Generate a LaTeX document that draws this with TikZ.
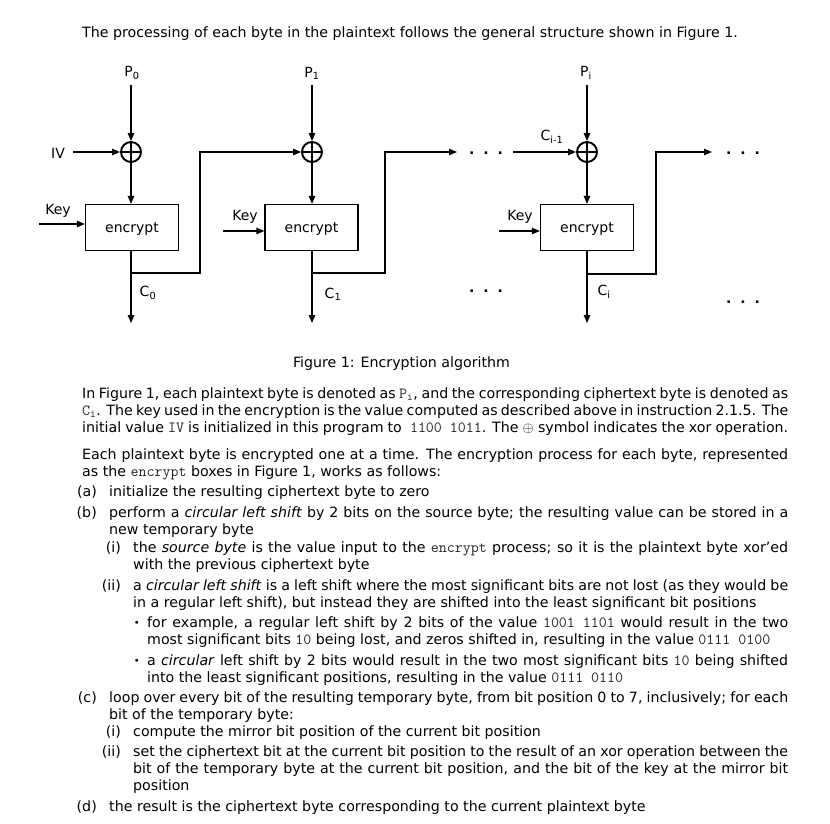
\documentclass[tikz,border=0pt]{standalone}
\usepackage{fontspec}
\setmainfont{DejaVu Sans}
\usetikzlibrary{arrows.meta}
\newcommand\mono[1]{{\ttfamily\fontsize{15.5}{17}\selectfont\color{black!85}#1}}
\newcommand\jl[4]{\node[txt] (#1) at (#2,#3) {\makebox[\dimexpr788pt-#2pt\relax][s]{#4}};}
\newcommand\nl[4]{\node[txt] (#1) at (#2,#3) {#4};}
\newcommand\bul{{\fontsize{10}{10}\selectfont\raisebox{1pt}{\textbullet}}}
\begin{document}
\begin{tikzpicture}[x=1pt,y=-1pt,
 txt/.style={anchor=base west,inner sep=0pt,font=\fontsize{14.2}{17}\selectfont},
 lab/.style={anchor=base east,inner sep=0pt,font=\fontsize{14.2}{17}\selectfont},
 dlab/.style={inner sep=0pt,font=\fontsize{14}{16}\selectfont},
 wire/.style={line width=1.3pt},
 arr/.style={wire,-{Triangle[length=8pt,width=6.5pt]}},
 xorc/.style={circle,draw,line width=1.9pt,minimum size=20pt,inner sep=0pt,
   path picture={\draw[line width=1.9pt] (path picture bounding box.north) -- (path picture bounding box.south)
     (path picture bounding box.west) -- (path picture bounding box.east);}},
 encbox/.style={draw,line width=1.3pt,minimum width=93pt,minimum height=46pt,inner sep=0pt,
   text depth=0pt,font=\fontsize{14}{16}\selectfont},
 dotsrow/.style={anchor=base,inner sep=0pt,font=\fontsize{14}{16}\selectfont\bfseries}]
\useasboundingbox (0,0) rectangle (830,824);

% ---------- title ----------
\nl{title}{82}{38}{The processing of each byte in the plaintext follows the general structure shown in Figure 1.}

% ---------- diagram ----------
\node[xorc] (xor0) at (131,152) {};
\node[xorc] (xor1) at (312,152) {};
\node[xorc] (xor2) at (587,152) {};
\node[encbox] (box0) at (132,227.5) {encrypt};
\node[encbox] (box1) at (311.5,227.5) {encrypt};
\node[encbox] (box2) at (587,227.5) {encrypt};

\node[dlab] (P0) at (132,73) {P\textsubscript{0}};
\node[dlab] (P1) at (312,73) {P\textsubscript{1}};
\node[dlab] (Pi) at (586,73) {P\textsubscript{i}};
\node[dlab] (IV) at (58,153) {IV};
\node[dlab] (Cim) at (552,137) {C\textsubscript{i-1}};
\node[dlab] (K0) at (58,211) {Key};
\node[dlab] (K1) at (245,217) {Key};
\node[dlab] (K2) at (520,217) {Key};
\node[dlab] (C0) at (148,293) {C\textsubscript{0}};
\node[dlab] (C1) at (333,294) {C\textsubscript{1}};
\node[dlab] (Ci) at (604,292) {C\textsubscript{i}};

\coordinate (p0s) at (131,85);
\coordinate (p1s) at (312,85);
\coordinate (pis) at (587,85);
\coordinate (ivs) at (73,152);
\coordinate (cis) at (513,152);
\coordinate (k0s) at (39,224);
\coordinate (k1s) at (223,231);
\coordinate (k2s) at (499,231);
\coordinate (o0) at (131,323);
\coordinate (o1) at (312,323);
\coordinate (o2) at (587,323);
\coordinate (br0) at (131,273);
\coordinate (br1) at (312,273);
\coordinate (br2) at (587,274);
\coordinate (j0) at (200,152);
\coordinate (j1) at (385,152);
\coordinate (j2) at (656,152);
\coordinate (e1) at (457,152);
\coordinate (e2) at (712,152);

\draw[arr] (p0s) -- (xor0);
\draw[arr] (p1s) -- (xor1);
\draw[arr] (pis) -- (xor2);
\draw[arr] (ivs) -- (xor0);
\draw[arr] (cis) -- (xor2);
\draw[arr] (xor0) -- (xor0 |- box0.north);
\draw[arr] (xor1) -- (xor1 |- box1.north);
\draw[arr] (xor2) -- (xor2 |- box2.north);
\draw[arr] (k0s) -- (k0s -| box0.west);
\draw[arr] (k1s) -- (k1s -| box1.west);
\draw[arr] (k2s) -- (k2s -| box2.west);
\draw[arr] (o0 |- box0.south) -- (o0);
\draw[arr] (o1 |- box1.south) -- (o1);
\draw[arr] (o2 |- box2.south) -- (o2);
\draw[arr] (br0) -- (br0 -| j0) -- (j0) -- (xor1);
\draw[arr] (br1) -- (br1 -| j1) -- (j1) -- (e1);
\draw[arr] (br2) -- (br2 -| j2) -- (j2) -- (e2);

\node[dotsrow] (dm1) at (486,154) {.\hspace{9pt}.\hspace{9pt}.};
\node[dotsrow] (dm2) at (486,292) {.\hspace{9pt}.\hspace{9pt}.};
\node[dotsrow] (dr1) at (743,154) {.\hspace{9pt}.\hspace{9pt}.};
\node[dotsrow] (dr2) at (743,303) {.\hspace{9pt}.\hspace{9pt}.};

\node[txt,anchor=base] (cap) at (401.5,367) {Figure 1: Encryption algorithm};

% ---------- paragraph 1 ----------
\jl{a1}{82}{398}{In Figure 1, each plaintext byte is denoted as \mono{P\textsubscript{i}}, and the corresponding ciphertext byte is denoted as}
\jl{a2}{82}{415}{\mono{C\textsubscript{i}}. The key used in the encryption is the value computed as described above in instruction 2.1.5. The}
\jl{a3}{82}{432}{initial value \mono{IV} is initialized in this program to \ \mono{1100\ 1011}. The $\oplus$ symbol indicates the xor operation.}

% ---------- paragraph 2 ----------
\jl{b1}{82}{459}{Each plaintext byte is encrypted one at a time. The encryption process for each byte, represented}
\nl{b2}{82}{476}{as the \mono{encrypt} boxes in Figure 1, works as follows:}

% ---------- list ----------
\node[lab] (la) at (97,496) {(a)};
\nl{ia1}{109}{496}{initialize the resulting ciphertext byte to zero}

\node[lab] (lb) at (97,517) {(b)};
\jl{ib1}{109}{517}{perform a \textit{circular left shift} by 2 bits on the source byte; the resulting value can be stored in a}
\nl{ib2}{109}{534}{new temporary byte}

\node[lab] (lbi) at (121,552) {(i)};
\jl{ibi1}{133}{552}{the \textit{source byte} is the value input to the \mono{encrypt} process; so it is the plaintext byte xor’ed}
\nl{ibi2}{133}{569}{with the previous ciphertext byte}

\node[lab] (lbii) at (121,590) {(ii)};
\jl{ibii1}{133}{590}{a \textit{circular left shift} is a left shift where the most significant bits are not lost (as they would be}
\nl{ibii2}{133}{607}{in a regular left shift), but instead they are shifted into the least significant bit positions}

\node[lab] (bu1) at (140,627) {\bul};
\jl{ibu1}{147}{627}{for example, a regular left shift by 2 bits of the value \mono{1001\ 1101} would result in the two}
\nl{ibu2}{147}{644}{most significant bits \mono{10} being lost, and zeros shifted in, resulting in the value \mono{0111\ 0100}}

\node[lab] (bu2) at (140,665) {\bul};
\jl{ibv1}{147}{665}{a \textit{circular} left shift by 2 bits would result in the two most significant bits \mono{10} being shifted}
\nl{ibv2}{147}{682}{into the least significant positions, resulting in the value \mono{0111\ 0110}}

\node[lab] (lc) at (97,702) {(c)};
\jl{ic1}{109}{702}{loop over every bit of the resulting temporary byte, from bit position 0 to 7, inclusively; for each}
\nl{ic2}{109}{719}{bit of the temporary byte:}

\node[lab] (lci) at (121,736) {(i)};
\nl{ici1}{133}{736}{compute the mirror bit position of the current bit position}

\node[lab] (lcii) at (121,756) {(ii)};
\jl{icii1}{133}{756}{set the ciphertext bit at the current bit position to the result of an xor operation between the}
\jl{icii2}{133}{773}{bit of the temporary byte at the current bit position, and the bit of the key at the mirror bit}
\nl{icii3}{133}{790}{position}

\node[lab] (ld) at (97,811) {(d)};
\nl{id1}{109}{811}{the result is the ciphertext byte corresponding to the current plaintext byte}
\end{tikzpicture}
\end{document}
